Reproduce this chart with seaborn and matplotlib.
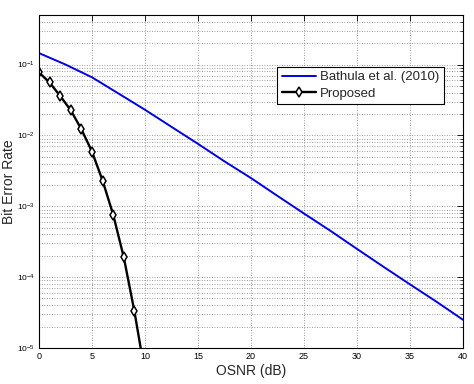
import matplotlib
matplotlib.use("Agg")
import matplotlib.pyplot as plt
import seaborn as sns
import numpy as np
import pandas as pd
from matplotlib.ticker import LogLocator, NullFormatter

# ---- data ----
bathula_osnr = [0, 2.5, 5, 7.5, 10, 12.5, 15, 17.5, 20, 22.5, 25, 27.5, 30, 32.5, 35, 37.5, 40]
bathula_ber = [0.145, 0.100, 0.066, 0.039, 0.023, 0.0132, 0.0076, 0.0043, 0.0025,
               0.0014, 7.9e-4, 4.5e-4, 2.5e-4, 1.4e-4, 7.9e-5, 4.5e-5, 2.5e-5]
proposed_osnr = [0, 1, 2, 3, 4, 5, 6, 7, 8, 9, 10]
proposed_ber = [0.0772, 0.0558, 0.036, 0.0226, 0.0122, 0.0059, 0.0023, 7.6e-4, 1.9e-4, 3.3e-5, 4.4e-6]
series_labels = ["Bathula et al. (2010)", "Proposed"]
x_ticks = [0, 5, 10, 15, 20, 25, 30, 35, 40]

sns.set_style("white")
plt.rcParams['font.family'] = ['Liberation Sans', 'DejaVu Sans']
plt.rcParams['mathtext.fontset'] = 'custom'
plt.rcParams['mathtext.rm'] = 'Liberation Sans'
plt.rcParams['mathtext.it'] = 'Liberation Sans'

fig = plt.figure(figsize=(4.74, 3.84), dpi=100)
ax = fig.add_axes([39/474, 36/384, (463-39)/474, (348-15)/384])

df_b = pd.DataFrame({"OSNR": bathula_osnr, "BER": bathula_ber})
df_p = pd.DataFrame({"OSNR": proposed_osnr, "BER": proposed_ber})

sns.lineplot(data=df_b, x="OSNR", y="BER", ax=ax, color="#0000e6", linewidth=1.4,
             label=series_labels[0])
sns.lineplot(data=df_p, x="OSNR", y="BER", ax=ax, color="black", linewidth=1.7,
             marker="d", markersize=5, markerfacecolor="white", markeredgecolor="black",
             markeredgewidth=1.1, label=series_labels[1])

ax.set_yscale("log")
ax.set_xlim(0, 40)
ax.set_ylim(1e-5, 0.5)
ax.set_xticks(x_ticks)
ax.set_xticklabels([str(t) for t in x_ticks])
ax.yaxis.set_major_locator(LogLocator(base=10, numticks=10))
ax.yaxis.set_minor_locator(LogLocator(base=10, subs=np.arange(2, 10), numticks=20))
ax.yaxis.set_minor_formatter(NullFormatter())

ax.grid(True, which="major", axis="both", linestyle=(0, (1, 2)), color="#808080", linewidth=0.6)
ax.grid(True, which="minor", axis="y", linestyle=(0, (1, 2)), color="#808080", linewidth=0.6)

ax.tick_params(axis="both", which="both", direction="in", top=True, right=True,
               colors="black")
ax.tick_params(axis="x", which="major", labelsize=6.5, pad=3)
ax.tick_params(axis="y", which="major", labelsize=6, pad=3)
ax.tick_params(axis="both", which="major", length=4, width=0.6)
ax.tick_params(axis="y", which="minor", length=2, width=0.5)
for s in ax.spines.values():
    s.set_color("black")
    s.set_linewidth(0.8)

ax.set_xlabel("OSNR (dB)", fontsize=10, labelpad=2)
ax.set_ylabel("Bit Error Rate", fontsize=10)
ax.yaxis.set_label_coords((16 - 39) / 424, 0.5)

leg = ax.legend(loc="upper right", bbox_to_anchor=(0.955, 0.845), fontsize=9.5,
                frameon=True, fancybox=False, edgecolor="black", framealpha=1,
                handlelength=2.6, handletextpad=0.3, borderpad=0.35, labelspacing=0.3,
                borderaxespad=0)
leg.get_frame().set_linewidth(0.8)

fig.savefig("out.png", dpi=100)
